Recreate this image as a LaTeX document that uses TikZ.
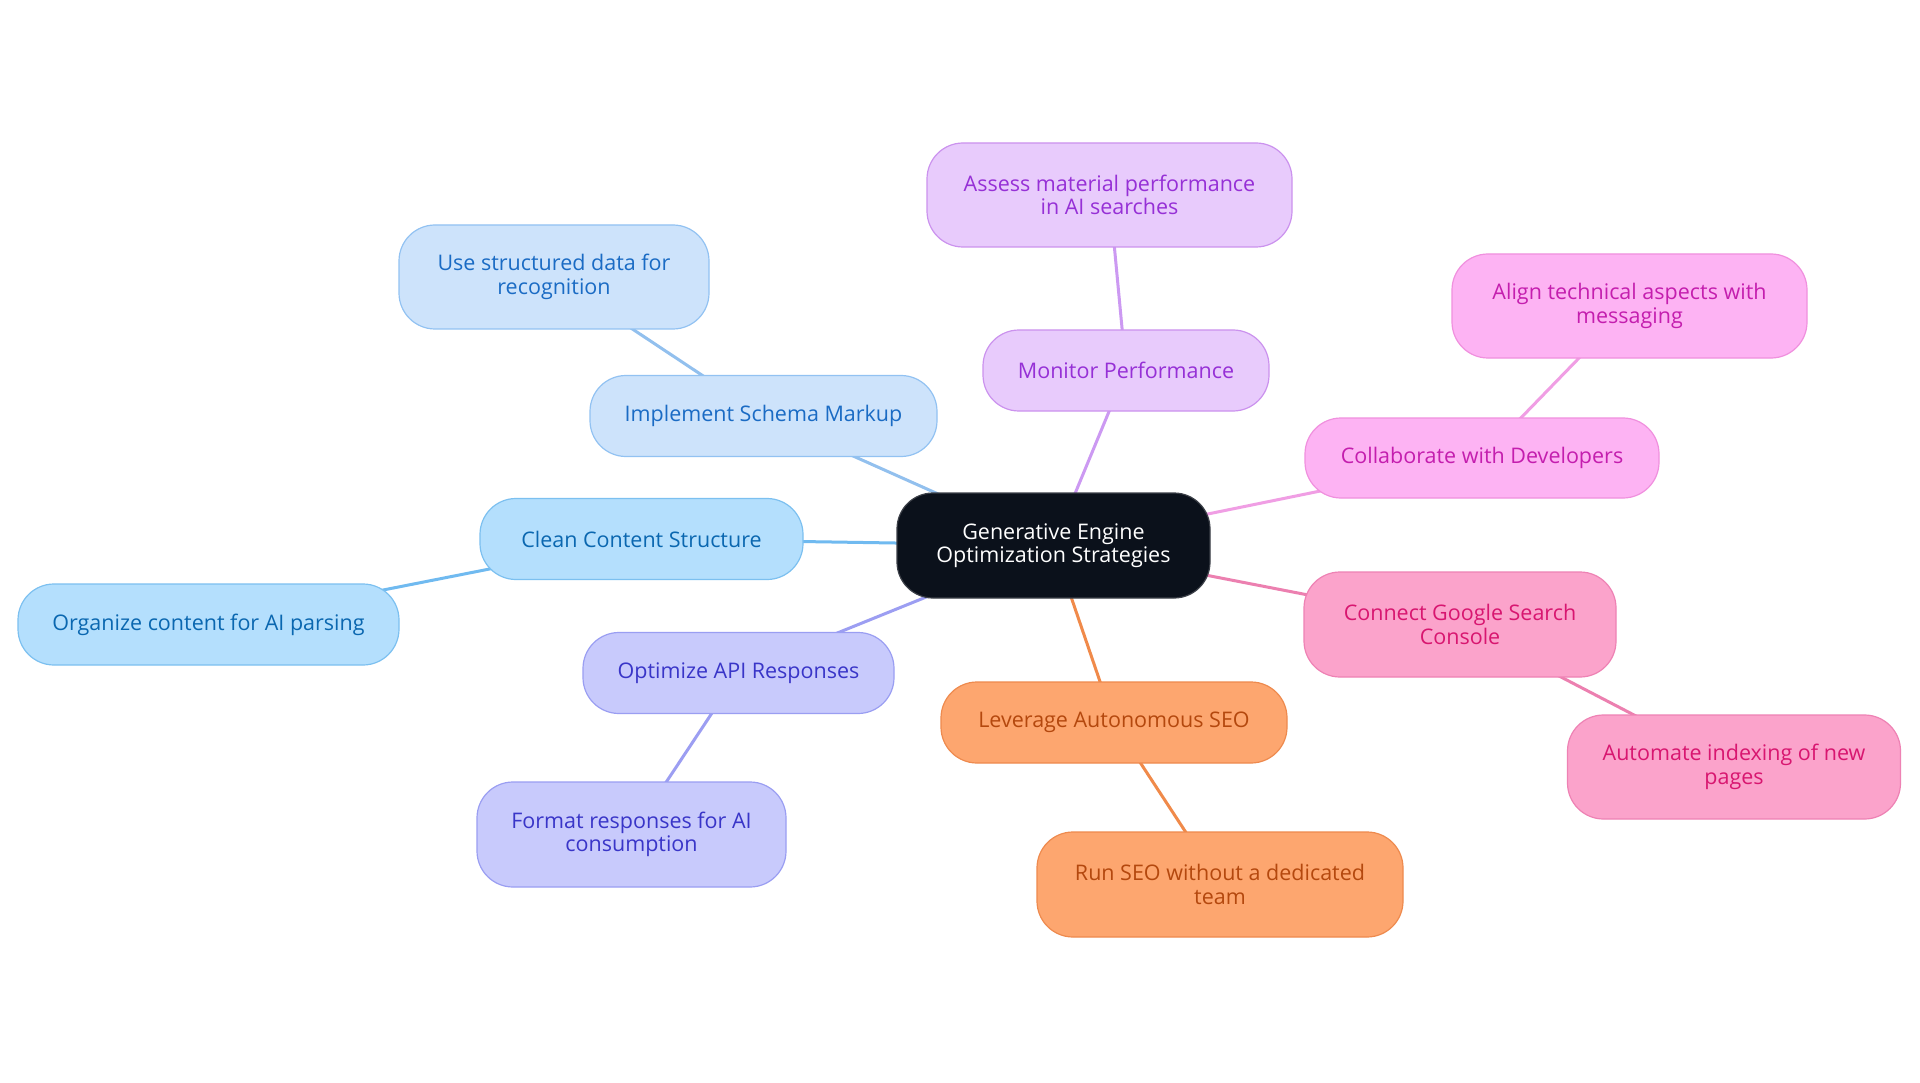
\documentclass[tikz,border=0pt]{standalone}
\usepackage{fontspec}
\setmainfont{Open Sans}
\usetikzlibrary{backgrounds}
\definecolor{cfill}{HTML}{0B111B}
\definecolor{cdraw}{HTML}{3C4048}
% light blue
\definecolor{lbfill}{HTML}{CDE3FB}
\definecolor{lbdraw}{HTML}{92C2F2}
\definecolor{lbtext}{HTML}{1A6BC4}
\definecolor{lbline}{HTML}{92C0EE}
% sky blue
\definecolor{sbfill}{HTML}{B4DFFD}
\definecolor{sbdraw}{HTML}{7CC0F0}
\definecolor{sbtext}{HTML}{0A67B0}
\definecolor{sbline}{HTML}{70BAF0}
% indigo
\definecolor{infill}{HTML}{C8CAFC}
\definecolor{indraw}{HTML}{9A9EF2}
\definecolor{intext}{HTML}{3935C8}
\definecolor{inline}{HTML}{9C9EF2}
% purple
\definecolor{pufill}{HTML}{E8CBFC}
\definecolor{pudraw}{HTML}{CB92EE}
\definecolor{putext}{HTML}{9630D6}
\definecolor{puline}{HTML}{CC99F2}
% magenta
\definecolor{mafill}{HTML}{FDB3F3}
\definecolor{madraw}{HTML}{F090DE}
\definecolor{matext}{HTML}{C41EAE}
\definecolor{maline}{HTML}{F09EE4}
% pink
\definecolor{pkfill}{HTML}{FBA3CB}
\definecolor{pkdraw}{HTML}{EE82B4}
\definecolor{pktext}{HTML}{D81670}
\definecolor{pkline}{HTML}{EC80B0}
% orange
\definecolor{orfill}{HTML}{FDA66F}
\definecolor{ordraw}{HTML}{EE8A4E}
\definecolor{ortext}{HTML}{B4480E}
\definecolor{orline}{HTML}{F08A4A}
\tikzset{
  box/.style={rectangle, rounded corners=36pt, line width=1.2pt, align=center,
    inner sep=0pt, font=\fontsize{21.5}{23.5}\selectfont},
  oneline/.style={minimum height=81pt},
  twoline/.style={minimum height=104pt},
  gLB/.style={box, fill=lbfill, draw=lbdraw, text=lbtext},
  gSB/.style={box, fill=sbfill, draw=sbdraw, text=sbtext},
  gIN/.style={box, fill=infill, draw=indraw, text=intext},
  gPU/.style={box, fill=pufill, draw=pudraw, text=putext},
  gMA/.style={box, fill=mafill, draw=madraw, text=matext},
  gPK/.style={box, fill=pkfill, draw=pkdraw, text=pktext},
  gOR/.style={box, fill=orfill, draw=ordraw, text=ortext},
  link/.style={line width=3pt},
}
\begin{document}
\begin{tikzpicture}[x=1pt,y=-1pt]
\useasboundingbox (0,0) rectangle (1920,1083);
\node[box, fill=cfill, draw=cdraw, text=white, minimum width=313pt, minimum height=105pt] (c) at (1053.5,545.5) {Generative Engine\\Optimization Strategies};
\node[gLB, oneline, minimum width=347pt] (imp) at (763.5,416) {Implement Schema Markup};
\node[gLB, twoline, minimum width=310pt] (use) at (554,277) {Use structured data for\\recognition};
\node[gSB, oneline, minimum width=323pt] (cln) at (641.5,539) {Clean Content Structure};
\node[gSB, oneline, minimum width=381pt] (org) at (208.5,624.5) {Organize content for AI parsing};
\node[gIN, oneline, minimum width=311pt] (opt) at (738.5,673) {Optimize API Responses};
\node[gIN, twoline, minimum width=309pt, minimum height=105pt] (fmt) at (631.5,834.5) {Format responses for AI\\consumption};
\node[gPU, oneline, minimum width=286pt] (mon) at (1126,370.5) {Monitor Performance};
\node[gPU, twoline, minimum width=365pt] (ass) at (1109.5,195) {Assess material performance\\in AI searches};
\node[gMA, oneline, minimum width=354pt, minimum height=80pt] (col) at (1482,458) {Collaborate with Developers};
\node[gMA, twoline, minimum width=355pt] (ali) at (1629.5,306) {Align technical aspects with\\messaging};
\node[gPK, twoline, minimum width=312pt, minimum height=105pt] (gsc) at (1460,624.5) {Connect Google Search\\Console};
\node[gPK, twoline, minimum width=333pt] (aut) at (1734,767) {Automate indexing of new\\pages};
\node[gOR, oneline, minimum width=346pt] (lev) at (1114,722.5) {Leverage Autonomous SEO};
\node[gOR, twoline, minimum width=366pt, minimum height=105pt] (run) at (1220,884.5) {Run SEO without a dedicated\\team};
\begin{scope}[on background layer]
\fill[white] (0,0) rectangle (1920,1083);
\draw[link, lbline] (c.center) -- (imp.center);
\draw[link, lbline] (imp.center) -- (use.center);
\draw[link, sbline] (c.center) -- (cln.center);
\draw[link, sbline] (cln.center) -- (org.center);
\draw[link, inline] (c.center) -- (opt.center);
\draw[link, inline] (opt.center) -- (fmt.center);
\draw[link, puline] (c.center) -- (mon.center);
\draw[link, puline] (mon.center) -- (ass.center);
\draw[link, maline] (c.center) -- (col.center);
\draw[link, maline] (col.center) -- (ali.center);
\draw[link, pkline] (c.center) -- (gsc.center);
\draw[link, pkline] (gsc.center) -- (aut.center);
\draw[link, orline] (c.center) -- (lev.center);
\draw[link, orline] (lev.center) -- (run.center);
\end{scope}
\end{tikzpicture}
\end{document}
